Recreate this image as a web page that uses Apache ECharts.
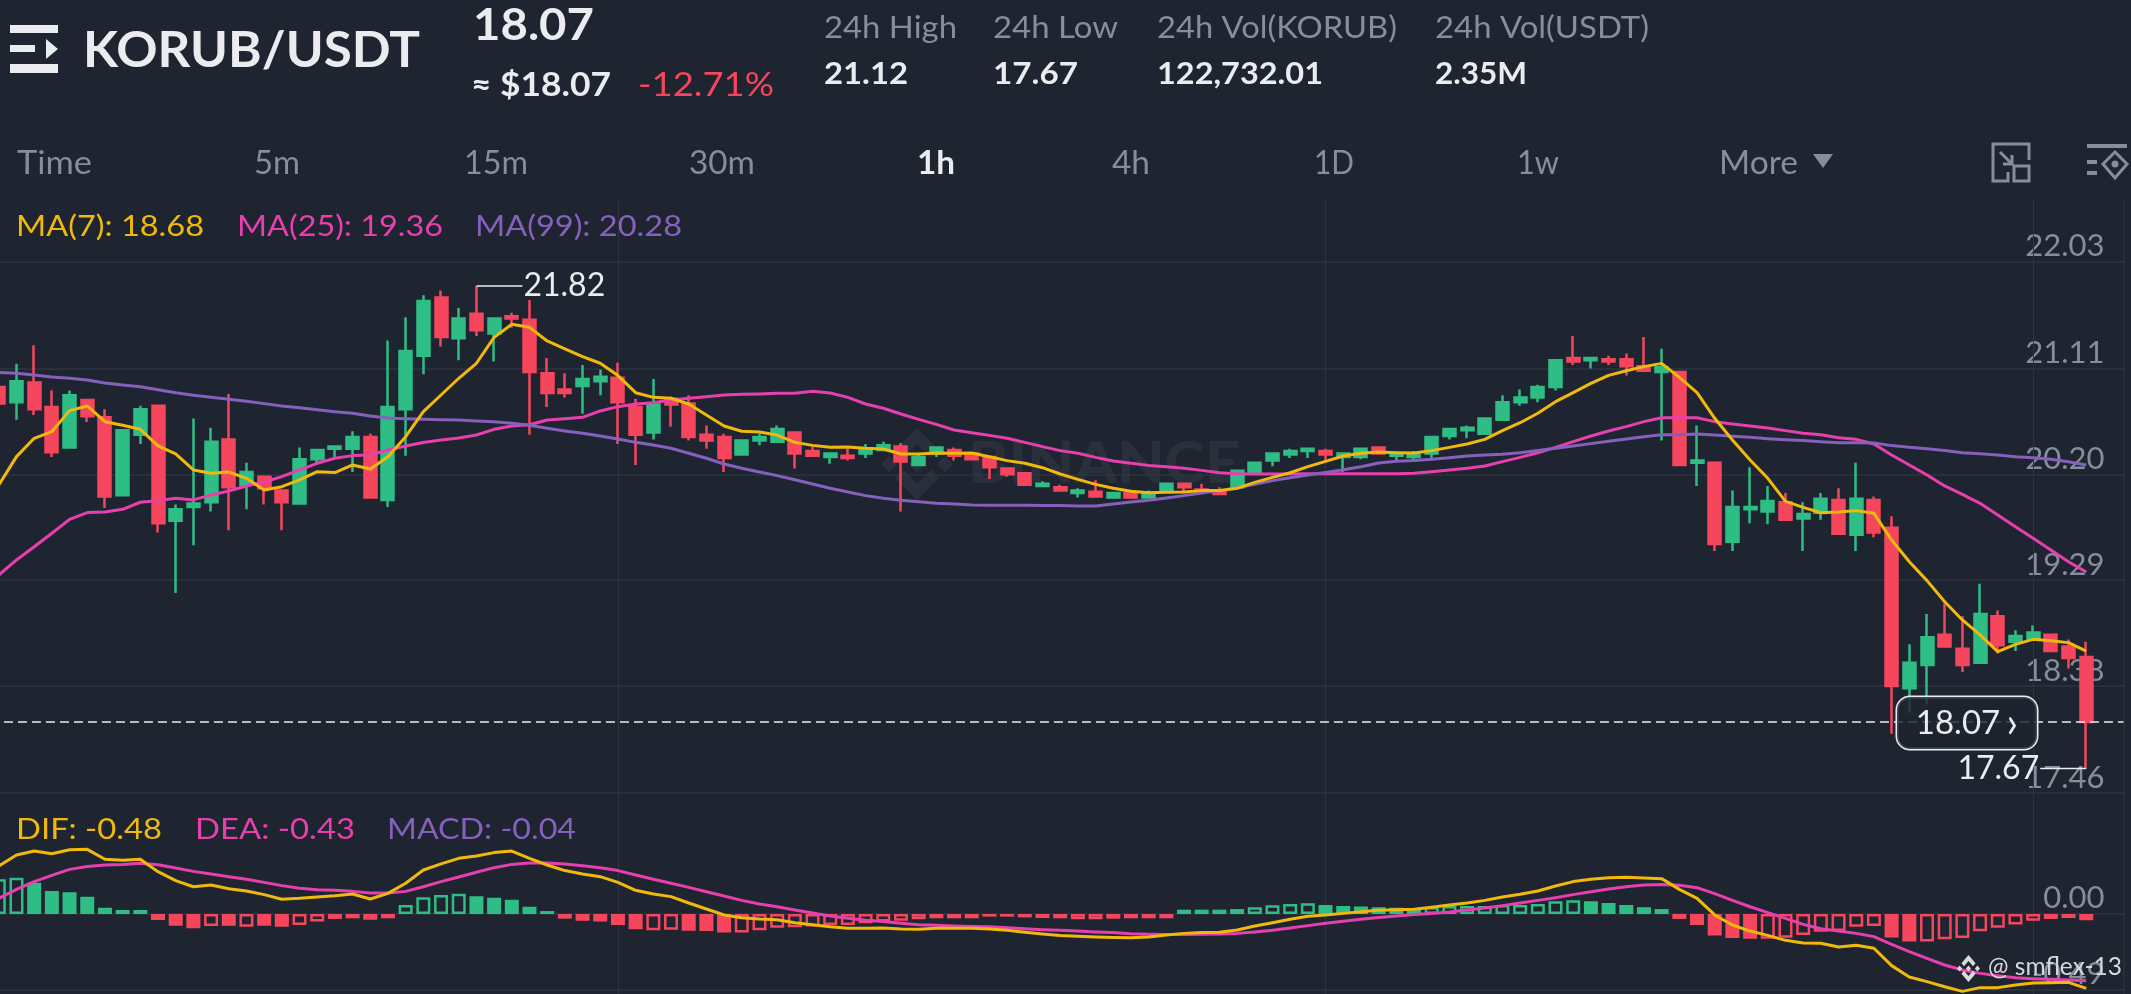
<!DOCTYPE html>
<html><head><meta charset="utf-8">
<style>html,body{margin:0;padding:0;background:#1f2530;overflow:hidden}#c{width:2131px;height:994px}</style>
<script src="https://cdn.jsdelivr.net/npm/echarts@6/dist/echarts.min.js"></script>
</head><body><div id="c"></div>
<script>
const opens=[20.95,20.82,20.99,20.78,20.43,20.84,20.69,20.02,20.54,20.79,
19.80,19.92,19.96,20.50,20.11,20.18,20.06,19.95,20.33,20.42,
20.42,20.52,19.98,20.76,21.22,21.72,21.37,21.58,21.41,21.56,
21.53,21.07,20.93,20.96,21.00,21.03,20.78,20.56,20.85,20.81,
20.54,20.52,20.37,20.49,20.48,20.56,20.40,20.35,20.36,20.38,
20.41,20.44,20.28,20.38,20.41,20.38,20.35,20.25,20.21,20.10,
20.09,20.04,20.05,20.00,20.04,20.00,20.05,20.12,20.07,20.05,
20.09,20.22,20.32,20.37,20.40,20.40,20.35,20.35,20.43,20.36,
20.35,20.38,20.53,20.58,20.55,20.67,20.82,20.86,20.95,21.20,
21.18,21.19,21.19,21.13,21.08,21.08,20.30,20.30,19.62,19.90,
19.88,19.96,19.82,19.87,19.98,19.68,19.98,19.74,18.36,18.56,
18.82,18.70,18.58,18.98,18.76,18.78,18.82,18.72,18.63];
const closes=[20.81,21.00,20.76,20.39,20.88,20.70,20.01,20.58,20.76,19.78,
19.90,19.95,20.48,20.09,20.22,20.08,19.96,20.33,20.41,20.44,
20.52,20.00,20.78,21.26,21.69,21.38,21.54,21.44,21.54,21.54,
21.08,20.90,20.90,21.02,21.04,20.82,20.54,20.80,20.80,20.52,
20.49,20.34,20.49,20.52,20.59,20.38,20.36,20.38,20.34,20.42,
20.45,20.31,20.35,20.43,20.36,20.33,20.26,20.20,20.11,20.12,
20.06,20.06,20.01,20.04,20.00,20.04,20.12,20.09,20.05,20.03,
20.23,20.30,20.38,20.40,20.42,20.37,20.38,20.42,20.38,20.38,
20.37,20.52,20.59,20.60,20.68,20.82,20.86,20.95,21.18,21.17,
21.20,21.17,21.13,21.09,21.12,20.28,20.32,19.60,19.92,19.92,
19.97,19.81,19.86,19.99,19.69,19.99,19.70,18.38,18.58,18.80,
18.72,18.56,19.00,18.73,18.81,18.84,18.68,18.62,18.07];
const lows=[20.67,20.67,20.71,20.35,20.43,20.65,19.91,20.01,20.46,19.70,
19.18,19.59,19.88,19.72,19.90,19.94,19.72,19.95,20.30,20.34,
20.22,20.00,19.92,20.36,21.06,21.30,21.18,21.39,21.17,21.46,
20.54,20.78,20.86,20.72,20.88,20.46,20.28,20.50,20.61,20.49,
20.42,20.22,20.37,20.45,20.48,20.25,20.36,20.29,20.32,20.34,
20.40,19.88,20.28,20.35,20.32,20.32,20.16,20.18,20.11,20.09,
20.06,20.00,20.00,20.00,20.00,20.00,20.05,20.05,20.04,20.03,
20.09,20.22,20.27,20.34,20.34,20.31,20.22,20.33,20.37,20.32,
20.33,20.34,20.50,20.51,20.54,20.67,20.79,20.82,20.92,21.14,
21.11,21.14,21.05,21.08,20.49,20.28,20.10,19.54,19.54,19.78,
19.77,19.80,19.54,19.81,19.69,19.54,19.66,17.97,18.15,18.22,
18.72,18.50,18.58,18.66,18.68,18.78,18.68,18.53,17.67];
const highs=[21.30,21.15,21.31,20.92,20.92,20.84,20.76,20.58,20.79,20.80,
19.94,20.68,20.60,20.89,20.30,20.19,20.06,20.43,20.42,20.45,
20.57,20.55,21.35,21.55,21.74,21.78,21.63,21.82,21.55,21.59,
21.70,21.20,21.07,21.14,21.10,21.16,20.85,21.02,20.87,20.88,
20.62,20.55,20.49,20.55,20.62,20.56,20.44,20.38,20.42,20.46,
20.48,20.47,20.38,20.43,20.43,20.39,20.35,20.26,20.22,20.14,
20.11,20.08,20.15,20.05,20.05,20.06,20.13,20.12,20.12,20.09,
20.24,20.31,20.39,20.42,20.42,20.42,20.39,20.42,20.44,20.39,
20.40,20.52,20.60,20.62,20.68,20.88,20.93,20.97,21.18,21.39,
21.21,21.22,21.24,21.38,21.28,21.08,20.62,20.30,20.06,20.26,
20.10,20.04,19.96,20.04,20.08,20.30,20.01,19.84,18.74,19.00,
19.09,18.98,19.26,19.03,18.86,18.90,18.82,18.78,18.76];
const ma7=[20.109,20.352,20.510,20.567,20.748,20.788,20.653,20.622,20.587,20.444,
20.375,20.238,20.209,20.220,20.166,20.066,20.094,20.152,20.223,20.215,
20.281,20.246,20.352,20.524,20.739,20.882,21.026,21.155,21.378,21.490,
21.464,21.347,21.278,21.212,21.155,21.049,20.902,20.862,20.854,20.805,
20.710,20.616,20.570,20.564,20.538,20.475,20.449,20.432,20.435,20.424,
20.418,20.375,20.375,20.383,20.381,20.383,20.352,20.318,20.295,20.257,
20.203,20.157,20.114,20.080,20.054,20.042,20.045,20.048,20.060,20.060,
20.080,20.131,20.174,20.214,20.266,20.312,20.358,20.381,20.392,20.386,
20.383,20.404,20.432,20.461,20.501,20.576,20.644,20.725,20.825,20.902,
20.982,21.051,21.091,21.126,21.154,21.034,20.902,20.682,20.495,20.323,
20.166,19.968,19.916,19.870,19.876,19.888,19.865,19.635,19.449,19.286,
19.105,18.948,18.819,18.675,18.738,18.781,18.770,18.753,18.68];
const ma25=[19.335,19.464,19.578,19.693,19.813,19.871,19.876,19.899,19.960,19.974,
19.994,19.980,20.023,20.057,20.100,20.134,20.180,20.238,20.295,20.338,
20.361,20.367,20.409,20.444,20.473,20.495,20.513,20.538,20.587,20.616,
20.627,20.667,20.679,20.690,20.745,20.782,20.805,20.816,20.839,20.854,
20.868,20.882,20.888,20.891,20.897,20.897,20.914,20.899,20.862,20.805,
20.768,20.719,20.673,20.630,20.581,20.558,20.535,20.510,20.475,20.438,
20.404,20.381,20.346,20.315,20.295,20.277,20.266,20.252,20.234,20.214,
20.206,20.203,20.203,20.203,20.206,20.206,20.206,20.206,20.206,20.206,
20.209,20.223,20.237,20.252,20.272,20.309,20.346,20.386,20.432,20.481,
20.530,20.573,20.610,20.653,20.687,20.687,20.687,20.653,20.633,20.616,
20.598,20.576,20.553,20.541,20.515,20.501,20.461,20.366,20.280,20.194,
20.100,20.028,19.951,19.850,19.750,19.650,19.549,19.449,19.36];
const ma99=[21.077,21.069,21.054,21.037,21.026,21.011,20.986,20.968,20.954,20.928,
20.902,20.880,20.862,20.845,20.828,20.808,20.788,20.773,20.756,20.739,
20.725,20.702,20.685,20.679,20.673,20.670,20.667,20.659,20.653,20.639,
20.622,20.596,20.573,20.553,20.530,20.504,20.475,20.452,20.424,20.381,
20.338,20.289,20.252,20.220,20.189,20.154,20.117,20.080,20.048,20.017,
19.994,19.977,19.965,19.951,19.945,19.936,19.934,19.934,19.934,19.931,
19.931,19.928,19.928,19.945,19.962,19.977,19.997,20.017,20.040,20.060,
20.085,20.114,20.146,20.171,20.194,20.217,20.240,20.266,20.298,20.312,
20.320,20.329,20.343,20.358,20.366,20.372,20.386,20.404,20.424,20.444,
20.464,20.484,20.504,20.524,20.541,20.541,20.547,20.538,20.527,20.518,
20.507,20.498,20.490,20.481,20.472,20.472,20.469,20.447,20.432,20.421,
20.404,20.386,20.378,20.366,20.352,20.343,20.329,20.309,20.28];
const dif=[.310,.381,.406,.389,.415,.417,.353,.346,.353,.273,
.215,.176,.187,.163,.148,.125,.095,.101,.110,.118,
.129,.097,.133,.198,.284,.323,.359,.374,.396,.406,
.359,.316,.280,.258,.241,.204,.153,.129,.112,.071,
.032,-.006,-.024,-.032,-.037,-.056,-.069,-.082,-.092,-.092,
-.090,-.097,-.099,-.092,-.092,-.092,-.097,-.105,-.118,-.129,
-.138,-.144,-.148,-.151,-.153,-.148,-.135,-.125,-.120,-.118,
-.103,-.077,-.056,-.034,-.015,-.006,.004,.015,.024,.028,
.030,.043,.058,.071,.088,.110,.127,.148,.181,.209,
.224,.234,.237,.232,.228,.159,.101,-.006,-.071,-.110,
-.138,-.170,-.187,-.189,-.213,-.202,-.221,-.333,-.406,-.436,
-.469,-.499,-.475,-.475,-.458,-.445,-.443,-.441,-.48];
const dea=[.101,.159,.209,.249,.288,.307,.316,.320,.327,.318,
.297,.275,.258,.241,.224,.204,.183,.166,.157,.153,
.146,.135,.135,.146,.176,.209,.239,.269,.299,.320,
.329,.329,.323,.312,.299,.280,.252,.224,.198,.172,
.144,.116,.088,.065,.047,.026,.006,-.013,-.028,-.041,
-.049,-.060,-.069,-.073,-.077,-.080,-.082,-.088,-.095,-.101,
-.105,-.110,-.116,-.120,-.127,-.131,-.133,-.133,-.131,-.129,
-.125,-.116,-.105,-.090,-.075,-.060,-.047,-.034,-.022,-.013,
-.004,.004,.013,.026,.039,.054,.071,.088,.105,.125,
.144,.161,.176,.187,.191,.185,.170,.131,.088,.047,
.009,-.028,-.067,-.095,-.110,-.125,-.146,-.196,-.243,-.286,
-.329,-.361,-.383,-.398,-.411,-.417,-.421,-.426,-.43];
const macd=[.224,.234,.202,.148,.140,.112,.041,.026,.026,-.039,
-.075,-.092,-.077,-.075,-.082,-.075,-.082,-.071,-.049,-.032,
-.028,-.037,-.028,.058,.108,.123,.131,.114,.105,.092,
.047,.019,-.030,-.043,-.049,-.071,-.099,-.105,-.101,-.108,
-.110,-.120,-.120,-.105,-.088,-.086,-.080,-.071,-.071,-.060,
-.049,-.043,-.034,-.028,-.028,-.028,-.017,-.017,-.022,-.026,
-.028,-.034,-.034,-.030,-.028,-.028,-.028,.028,.028,.028,
.032,.043,.056,.065,.069,.058,.052,.049,.043,.041,
.037,.045,.052,.052,.052,.058,.058,.065,.082,.088,
.082,.071,.058,.043,.032,-.032,-.071,-.138,-.155,-.159,
-.159,-.153,-.135,-.114,-.110,-.082,-.077,-.151,-.178,-.178,
-.163,-.155,-.112,-.088,-.067,-.043,-.032,-.026,-.04];
const macdHollow=[0,1,12,14,17,18,19,23,24,25,26,37,38,42,43,44,45,46,47,48,49,50,51,52,61,62,63,64,70,71,72,73,74,81,82,83,84,85,86,87,88,89,100,101,102,103,104,105,106,109,110,111,112,113,114,115,116];
const categories=[...opens.map((_,i)=>String(i)),'','']; // two empty slots right of the last candle
const priceTicks=[22.03,21.11,20.20,19.29,18.38,17.46];
const macdTicks=[0,-0.49];
const verticalGrid=[35,75,115];
const lastPrice=18.07, highMark=[27,21.82], lowMark=[118,17.67];

const UP='#2ebd85',DOWN='#f6465d',BG='#1f2530',GRID='#2e3440',GREY='#848e9c',YEL='#f0b90b',PINK='#e83fae',PUR='#8560bd',WHITE='#eaecef',FONT='Lato';
const BAND=17.69, L=-10.05, W=BAND*categories.length;

const mctx=document.createElement('canvas').getContext('2d');
// text stretched horizontally to the width it occupies in the reference
function T(text,x,y,size,fill,weight,w,z){
 weight=weight||400; mctx.font=weight+' '+size+'px '+FONT;
 const sx=w?w/mctx.measureText(text).width:1;
 return {type:'text',z:z||50,silent:true,x,y,scaleX:sx,style:{text,x:0,y:0,fill:fill||GREY,fontSize:size,fontFamily:FONT,fontWeight:weight,align:'left',verticalAlign:'middle'}};
}
const logoPolys=[[[38.73,53.2],[63.32,28.62],[87.92,53.22],[102.22,38.91],[63.32,0],[24.42,38.9]],
[[0,63.31],[14.3,49],[28.61,63.31],[14.3,77.61]],
[[38.73,73.41],[63.32,98],[87.92,73.4],[102.23,87.69],[63.33,126.6],[24.42,87.72]],
[[98,63.31],[112.3,49],[126.61,63.3],[112.3,77.62]],
[[77.83,63.3],[63.32,48.78],[48.81,63.28],[63.32,77.78]]];
function logo(x,y,w,h,fill,z){return {type:'group',x,y,scaleX:w/126.61,scaleY:h/126.6,z,silent:true,children:logoPolys.map(p=>({type:'polygon',z,silent:true,shape:{points:p},style:{fill}}))};}
const R=(x,y,w,h,fill,z)=>({type:'rect',z:z||50,silent:true,shape:{x,y,width:w,height:h},style:{fill}});
const PL=(pts,stroke,lw,z)=>({type:'polyline',z:z||50,silent:true,shape:{points:pts},style:{stroke,lineWidth:lw,fill:null}});

const graphic=[
 R(2124,199,7,795,BG,40), R(2123.5,199,1,795,GRID,41),
 R(10,25,48,8,WHITE),R(10,45,25,7,WHITE),R(10,64,48,9,WHITE),
 {type:'polygon',z:50,silent:true,shape:{points:[[46,39],[58,49],[46,59]]},style:{fill:WHITE}},
 T('KORUB/USDT',83,51,50,WHITE,700,337),
 T('18.07',473,26,44,WHITE,700,121),
 T('≈ $18.07',471,85,33,WHITE,700,140),
 T('-12.71%',638,85,33,DOWN,400,136),
 T('24h High',824,28,30,GREY,400,133),T('21.12',824,74,30,WHITE,700,84),
 T('24h Low',993,28,30,GREY,400,125),T('17.67',993,74,30,WHITE,700,85),
 T('24h Vol(KORUB)',1157,28,30,GREY,400,240),T('122,732.01',1157,74,30,WHITE,700,166),
 T('24h Vol(USDT)',1435,28,30,GREY,400,214),T('2.35M',1435,74,30,WHITE,700,92),
 T('Time',17,164,32,GREY,400,75),T('5m',254,164,32,GREY,400,46),T('15m',464,164,32,GREY,400,64),T('30m',689,164,32,GREY,400,66),
 T('1h',917,164,32,WHITE,700,38),T('4h',1112,164,32,GREY,400,38),T('1D',1314,164,32,GREY,400,40),T('1w',1517,164,32,GREY,400,42),T('More',1719,164,32,GREY,400,79),
 {type:'polygon',z:50,silent:true,shape:{points:[[1813,154],[1833,154],[1823,168]]},style:{fill:GREY}},
 PL([[2008,172],[2008,181],[1993,181],[1993,144],[2029,144],[2029,160]],GREY,3),
 {type:'rect',z:50,silent:true,shape:{x:2014,y:166,width:15,height:15},style:{stroke:GREY,lineWidth:3,fill:null}},
 PL([[2000,152],[2012,164]],GREY,3),PL([[2012,155],[2012,164],[2003,164]],GREY,3),
 R(2087,144,40,4,GREY),R(2087,160,10,4,GREY),R(2087,171,10,4,GREY),
 {type:'polygon',z:50,silent:true,shape:{points:[[2115,152],[2127,164],[2115,178],[2103,164]]},style:{stroke:GREY,lineWidth:3,fill:null}},
 {type:'circle',z:50,silent:true,shape:{cx:2115,cy:164,r:3.5},style:{fill:GREY}},
 T('MA(7): 18.68',16,227,29,YEL,400,188),T('MA(25): 19.36',237,227,29,PINK,400,206),T('MA(99): 20.28',475,227,29,PUR,400,207),
 T('DIF: -0.48',16,830,29,YEL,400,146),T('DEA: -0.43',195,830,29,PINK,400,160),T('MACD: -0.04',387,830,29,PUR,400,189),
 logo(881,428,72,72,'#2a303b',-1),
 T('BINANCE',968,464,58,'#2a303b',900,272,-1),
 logo(1957,955,23,27,'#d8dade',60),
 T('@ smflex-13',1988,967,25,'#d5d8dc',400,134,60)
];
const helper=(xi,yi)=>({type:'line',xAxisIndex:xi,yAxisIndex:yi,data:[],silent:true,z:1,markLine:{z:1,silent:true,animation:false,symbol:'none',label:{show:false},lineStyle:{color:GRID,width:1,type:'solid'},data:verticalGrid.map(x=>({xAxis:x}))}});
const ln=(name,data,color,xi,yi,w)=>({name,type:'line',data,xAxisIndex:xi,yAxisIndex:yi,showSymbol:false,smooth:false,silent:true,z:4,lineStyle:{color,width:w,join:'round'},itemStyle:{color}});
const yLabel=t=>({show:true,inside:true,customValues:t,margin:26,color:GREY,fontSize:31,fontFamily:FONT,verticalAlign:'bottom',formatter:v=>v.toFixed(2)});

const option={
 animation:false,backgroundColor:BG,graphic,
 grid:[{left:L,top:199,width:W,height:594,containLabel:false,outerBoundsMode:'none'},{left:L,top:793,width:W,height:201,containLabel:false,outerBoundsMode:'none'}],
 xAxis:[0,1].map(i=>({type:'category',gridIndex:i,data:categories,boundaryGap:true,axisLine:{show:false},axisTick:{show:false},axisLabel:{show:false},splitLine:{show:false}})),
 yAxis:[
  {type:'value',gridIndex:0,position:'right',min:17.46,max:22.5675,axisLine:{show:false},
   axisTick:{show:false,customValues:priceTicks},axisLabel:yLabel(priceTicks),
   splitLine:{show:true,lineStyle:{color:GRID,width:1.5}}},
  {type:'value',gridIndex:1,position:'right',min:-0.5161,max:0.7806,axisLine:{show:false},
   axisTick:{show:false,customValues:macdTicks},axisLabel:yLabel(macdTicks),
   splitLine:{show:true,lineStyle:{color:GRID,width:1.5}}}
 ],
 series:[
  helper(0,0),helper(1,1),
  {name:'KORUB/USDT',type:'candlestick',xAxisIndex:0,yAxisIndex:0,z:3,silent:true,barWidth:12.5,
   data:opens.map((o,i)=>[o,closes[i],lows[i],highs[i]]),
   itemStyle:{color:UP,color0:DOWN,borderColor:UP,borderColor0:DOWN,borderWidth:2.5},
   markLine:{silent:true,animation:false,symbol:'none',z:5,label:{show:false},lineStyle:{color:WHITE,width:1.5,type:[9,5]},data:[{yAxis:lastPrice}]},
   markPoint:{silent:true,animation:false,z:10,data:[
    {coord:highMark,symbol:'rect',symbolSize:[46,1.5],symbolOffset:[23,0],itemStyle:{color:WHITE},
     label:{show:true,position:'right',distance:1,formatter:String(highMark[1]),color:WHITE,fontSize:32,fontFamily:FONT}},
    {coord:lowMark,symbol:'rect',symbolSize:[46,1.5],symbolOffset:[-23,0],itemStyle:{color:WHITE},
     label:{show:true,position:'left',distance:1,formatter:String(lowMark[1]),color:WHITE,fontSize:32,fontFamily:FONT}},
    {coord:[111,lastPrice],symbol:'circle',symbolSize:0,
     label:{show:true,position:'inside',offset:[4.6,1],formatter:'{a|'+lastPrice.toFixed(2)+'}  {b|›}',
      rich:{a:{fontSize:33,color:WHITE,fontFamily:FONT},b:{fontSize:42,color:WHITE,fontFamily:FONT,lineHeight:42}},
      color:WHITE,fontFamily:FONT,backgroundColor:'rgba(31,37,48,0.82)',borderColor:WHITE,borderWidth:1.5,borderRadius:13,width:140,height:52,lineHeight:52,align:'center',verticalAlign:'middle'}}
   ]}},
  ln('MA(25)',ma25,PINK,0,0,3),ln('MA(99)',ma99,PUR,0,0,3),ln('MA(7)',ma7,YEL,0,0,3),
  {name:'MACD',type:'bar',xAxisIndex:1,yAxisIndex:1,barWidth:14,z:3,silent:true,
   data:macd.map((v,i)=>{const col=v>=0?UP:DOWN,h=macdHollow.includes(i);return {value:v,itemStyle:{color:h?'rgba(0,0,0,0)':col,borderColor:col,borderWidth:2.5}};})},
  ln('DEA',dea,PINK,1,1,3),ln('DIF',dif,YEL,1,1,3)
 ]
};
const chart=echarts.init(document.getElementById('c'),null,{renderer:'canvas',width:2131,height:994});
chart.setOption(option);
</script></body></html>
